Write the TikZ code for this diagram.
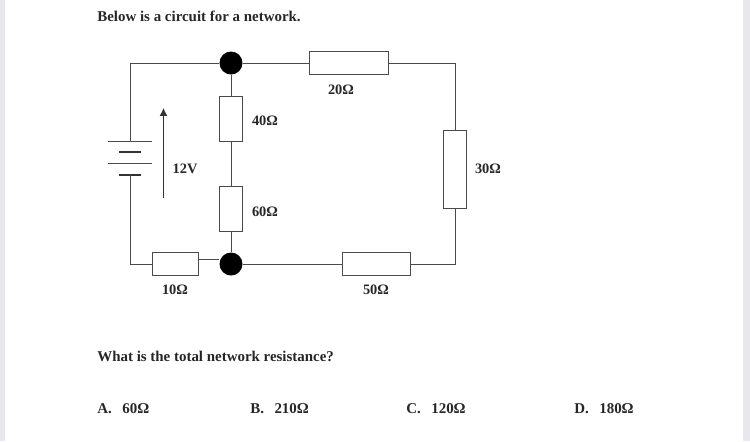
\documentclass[tikz,border=0pt]{standalone}
\usepackage{fontspec}
\setmainfont{Liberation Serif}
\usepackage{xcolor}
\usetikzlibrary{arrows.meta}
\definecolor{wirecol}{HTML}{4A4A4A}
\definecolor{edgecol}{HTML}{E8E8EC}
\tikzset{
  wire/.style={draw=wirecol,line width=0.55pt},
  res/.style={draw=wirecol,fill=white,line width=0.55pt,inner sep=0pt},
  joint/.style={circle,fill=black,inner sep=0pt,minimum size=0.46cm},
  plate/.style={fill=#1,inner sep=0pt,minimum height=0.02cm},
  lab/.style={font=\fontsize{8.2}{10}\selectfont\bfseries,inner sep=0pt,text=black!85},
  txt/.style={font=\fontsize{8.5}{10}\selectfont\bfseries,inner sep=0pt,anchor=west,text=black!85},
}
\begin{document}
\begin{tikzpicture}[x=0.02cm,y=-0.02cm]
    \useasboundingbox (0,0) rectangle (750,441);
    \fill[edgecol] (0,0) rectangle (4.5,441);
    \fill[edgecol] (743,0) rectangle (750,441);
    \node[txt] (head) at (97,16) {Below is a circuit for a network.};
    % corners
    \coordinate (tl) at (130,63);
    \coordinate (tr) at (455,63);
    \coordinate (bl) at (130,264);
    \coordinate (br) at (455,264);
    % junctions
    \node[joint] (jtop) at (231,63) {};
    \node[joint] (jbot) at (231,264) {};
    % resistors
    \node[res,minimum width=1.58cm,minimum height=0.46cm] (r20) at (348.5,63) {};
    \node[res,minimum width=0.46cm,minimum height=1.56cm] (r30) at (455,169) {};
    \node[res,minimum width=1.36cm,minimum height=0.46cm] (r50) at (376,264) {};
    \node[res,minimum width=0.92cm,minimum height=0.46cm] (r10) at (175,264) {};
    \node[res,minimum width=0.46cm,minimum height=0.9cm] (r40) at (231,118.5) {};
    \node[res,minimum width=0.46cm,minimum height=0.9cm] (r60) at (231,208.5) {};
    % cell
    \node[plate=wirecol,minimum width=0.88cm] (p1) at (130,141) {};
    \node[plate=black!80,minimum width=0.44cm,minimum height=0.03cm] (p2) at (130,152) {};
    \node[plate=wirecol,minimum width=0.9cm] (p3) at (130,163.5) {};
    \node[plate=black!80,minimum width=0.44cm,minimum height=0.03cm] (p4) at (130,175) {};
    % wires
    \draw[wire] (p1.center) -- (tl) -- (jtop) -- (r20) -- (tr) -- (r30) -- (br) -- (r50) -- (jbot);
    \draw[wire] (p4.center) -- (bl) -- (r10.west);
    \coordinate (r10out) at (r10.east |- 0,259);
    \draw[wire] (r10out) -- (jbot.west |- r10out);
    \draw[wire] (jtop) -- (r40) -- (r60) -- (jbot);
    % voltage arrow
    \coordinate (vs) at (163.5,198);
    \coordinate (ve) at (163.5,108);
    \draw[wire,draw=black!80,-{Latex[length=4.5pt,width=4.5pt]}] (vs) -- (ve);
    % labels
    \node[lab] (l12) at (185,168.5) {12V};
    \node[lab] (l20) at (341,90) {20Ω};
    \node[lab] (l40) at (265,120.5) {40Ω};
    \node[lab] (l60) at (265,211.5) {60Ω};
    \node[lab] (l30) at (488,168.5) {30Ω};
    \node[lab] (l10) at (175,289.5) {10Ω};
    \node[lab] (l50) at (376,289.5) {50Ω};
    \node[txt] (ask) at (97,356) {What is the total network resistance?};
    \node[txt] (oa) at (97,409) {A.\ \ \hspace{0.06cm}60Ω};
    \node[txt] (ob) at (250,409) {B.\ \ \hspace{0.06cm}210Ω};
    \node[txt] (oc) at (406,409) {C.\ \ \hspace{0.06cm}120Ω};
    \node[txt] (od) at (574,409) {D.\ \ \hspace{0.06cm}180Ω};
\end{tikzpicture}
\end{document}
